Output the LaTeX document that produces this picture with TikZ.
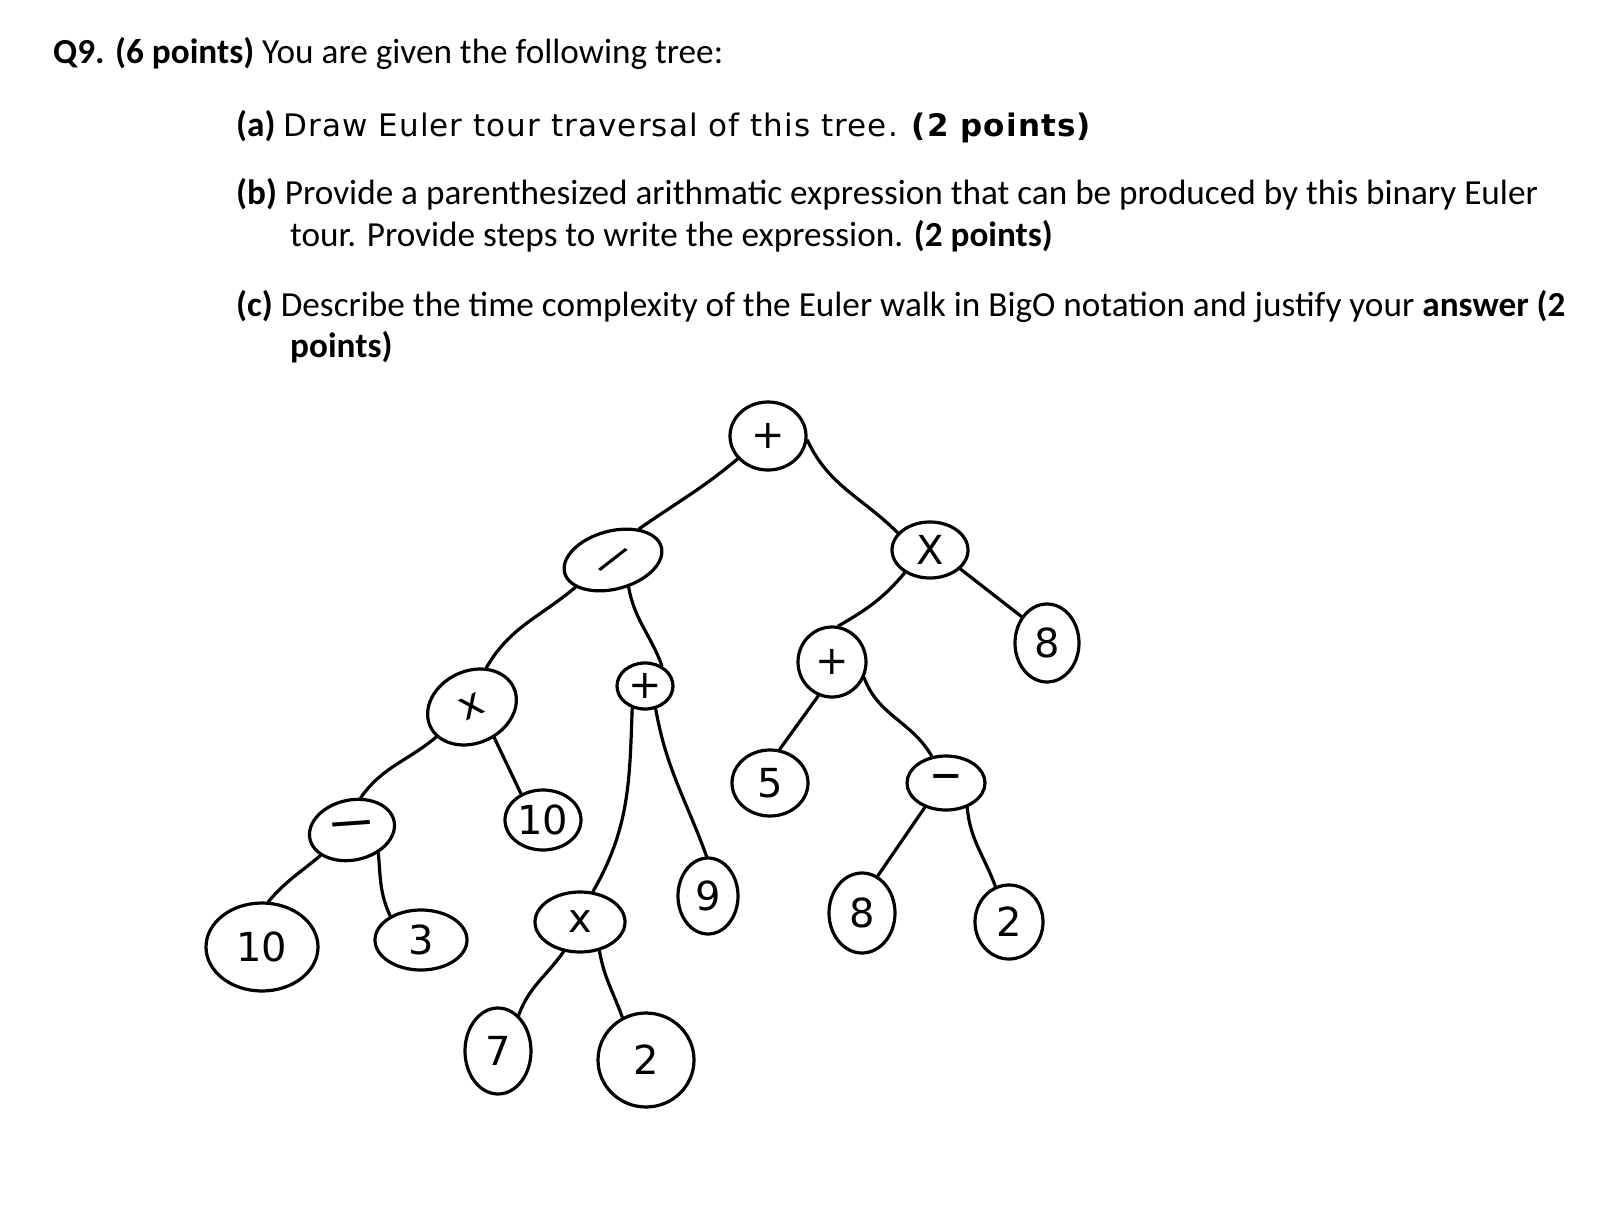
\documentclass[tikz,border=0pt]{standalone}
\usepackage{graphicx}
\usepackage{fontspec}
\setmainfont{Carlito}
\newfontfamily\widefont[LetterSpace=3.5]{DejaVu Sans}
\newfontfamily\handfont{DejaVu Sans}
\usetikzlibrary{shapes.geometric}
\begin{document}
\begin{tikzpicture}[x=1pt,y=1pt,
 txt/.style={anchor=base west, inner sep=0pt, font=\fontsize{35.2}{42}\selectfont},
 nd/.style={draw, ellipse, line width=3.2pt, inner sep=0pt, font=\handfont\fontsize{40}{40}\selectfont},
 edge/.style={line width=3.2pt, line cap=round}]
\useasboundingbox[fill=white] (0,0) rectangle (1612,-1217);

% question text
\node[txt] (q9) at (53,-64) {\textbf{Q9. (6 points)} You are given the following tree:};
\node[txt] (qa) at (236,-137) {\textbf{(a)} {\widefont\fontsize{31}{36}\selectfont Draw Euler tour traversal of this tree.\hspace{14pt}\bfseries (2 points)}};
\node[txt] (qb) at (236,-205) {\textbf{(b)} Provide a parenthesized arithmatic expression that can be produced by this binary Euler};
\node[txt] (qb2) at (290,-247) {tour. Provide steps to write the expression. \textbf{(2 points)}};
\node[txt] (qc) at (236,-316) {\textbf{(c)} Describe the time complexity of the Euler walk in BigO notation and justify your \textbf{answer (2}};
\node[txt] (qc2) at (290,-357) {\textbf{points)}};

% tree nodes
\node[nd, minimum width=76, minimum height=68] (root) at (768,-436) {+};
\node[nd, minimum width=100, minimum height=58, rotate=15] (div) at (613,-560) {\rotatebox{-50}{/}};
\node[nd, minimum width=76, minimum height=56] (xR) at (930,-550) {X};
\node[nd, minimum width=92, minimum height=72, rotate=25] (tx) at (472,-707) {x};
\node[nd, minimum width=56, minimum height=46] (pM) at (645,-686) {+};
\node[nd, minimum width=68, minimum height=70] (pR) at (832,-662) {+};
\node[nd, minimum width=64, minimum height=78] (eR) at (1047,-643) {8};
\node[nd, minimum width=86, minimum height=60, rotate=12] (mL) at (352,-830) {\rotatebox{-8}{\scalebox{1.5}[1.2]{−}}};
\node[nd, minimum width=76, minimum height=60] (tS) at (543,-820) {10};
\node[nd, minimum width=76, minimum height=66] (five) at (770,-783) {5};
\node[nd, minimum width=78, minimum height=54] (mR) at (946,-783) {\scalebox{1.0}[1.2]{−}};
\node[nd, minimum width=112, minimum height=88] (tL) at (262,-947) {10};
\node[nd, minimum width=92, minimum height=60] (three) at (421,-940) {3};
\node[nd, minimum width=90, minimum height=60] (xM) at (580,-922) {x};
\node[nd, minimum width=60, minimum height=76] (nine) at (708,-896) {9};
\node[nd, minimum width=66, minimum height=80] (eM) at (862,-913) {8};
\node[nd, minimum width=68, minimum height=74] (twoR) at (1009,-922) {2};
\node[nd, minimum width=66, minimum height=86] (seven) at (498,-1051) {7};
\node[nd, minimum width=96, minimum height=94] (twoB) at (646,-1060) {2};

% edges
\draw[edge] (root.-143) to[out=-140,in=35] (div.35);
\draw[edge] (root.-6) to[out=-65,in=135] (xR.152);
\draw[edge] (div.-159) to[out=-140,in=60] (tx.45);
\draw[edge] (div.-75) to[out=-80,in=110] (pM.50);
\draw[edge] (xR.-138) to[out=-130,in=30] (pR.80);
\draw[edge] (xR.-32) -- (eR.134);
\draw[edge] (tx.-165) to[out=-140,in=55] (mL.63);
\draw[edge] (tx.-79) -- (tS.130);
\draw[edge] (pM.-120) to[out=-92,in=60] (xM.67);
\draw[edge] (pM.-65) to[out=-80,in=110] (nine.92);
\draw[edge] (pR.-112) -- (five.74);
\draw[edge] (pR.-26) to[out=-70,in=120] (mR.118);
\draw[edge] (mL.-153) to[out=-140,in=50] (tL.82);
\draw[edge] (mL.-53) to[out=-85,in=115] (three.142);
\draw[edge] (xM.-119) to[out=-125,in=70] (seven.60);
\draw[edge] (xM.-56) to[out=-80,in=110] (twoB.119);
\draw[edge] (mR.-131) -- (eM.67);
\draw[edge] (mR.-49) to[out=-85,in=110] (twoR.111);
\end{tikzpicture}
\end{document}
